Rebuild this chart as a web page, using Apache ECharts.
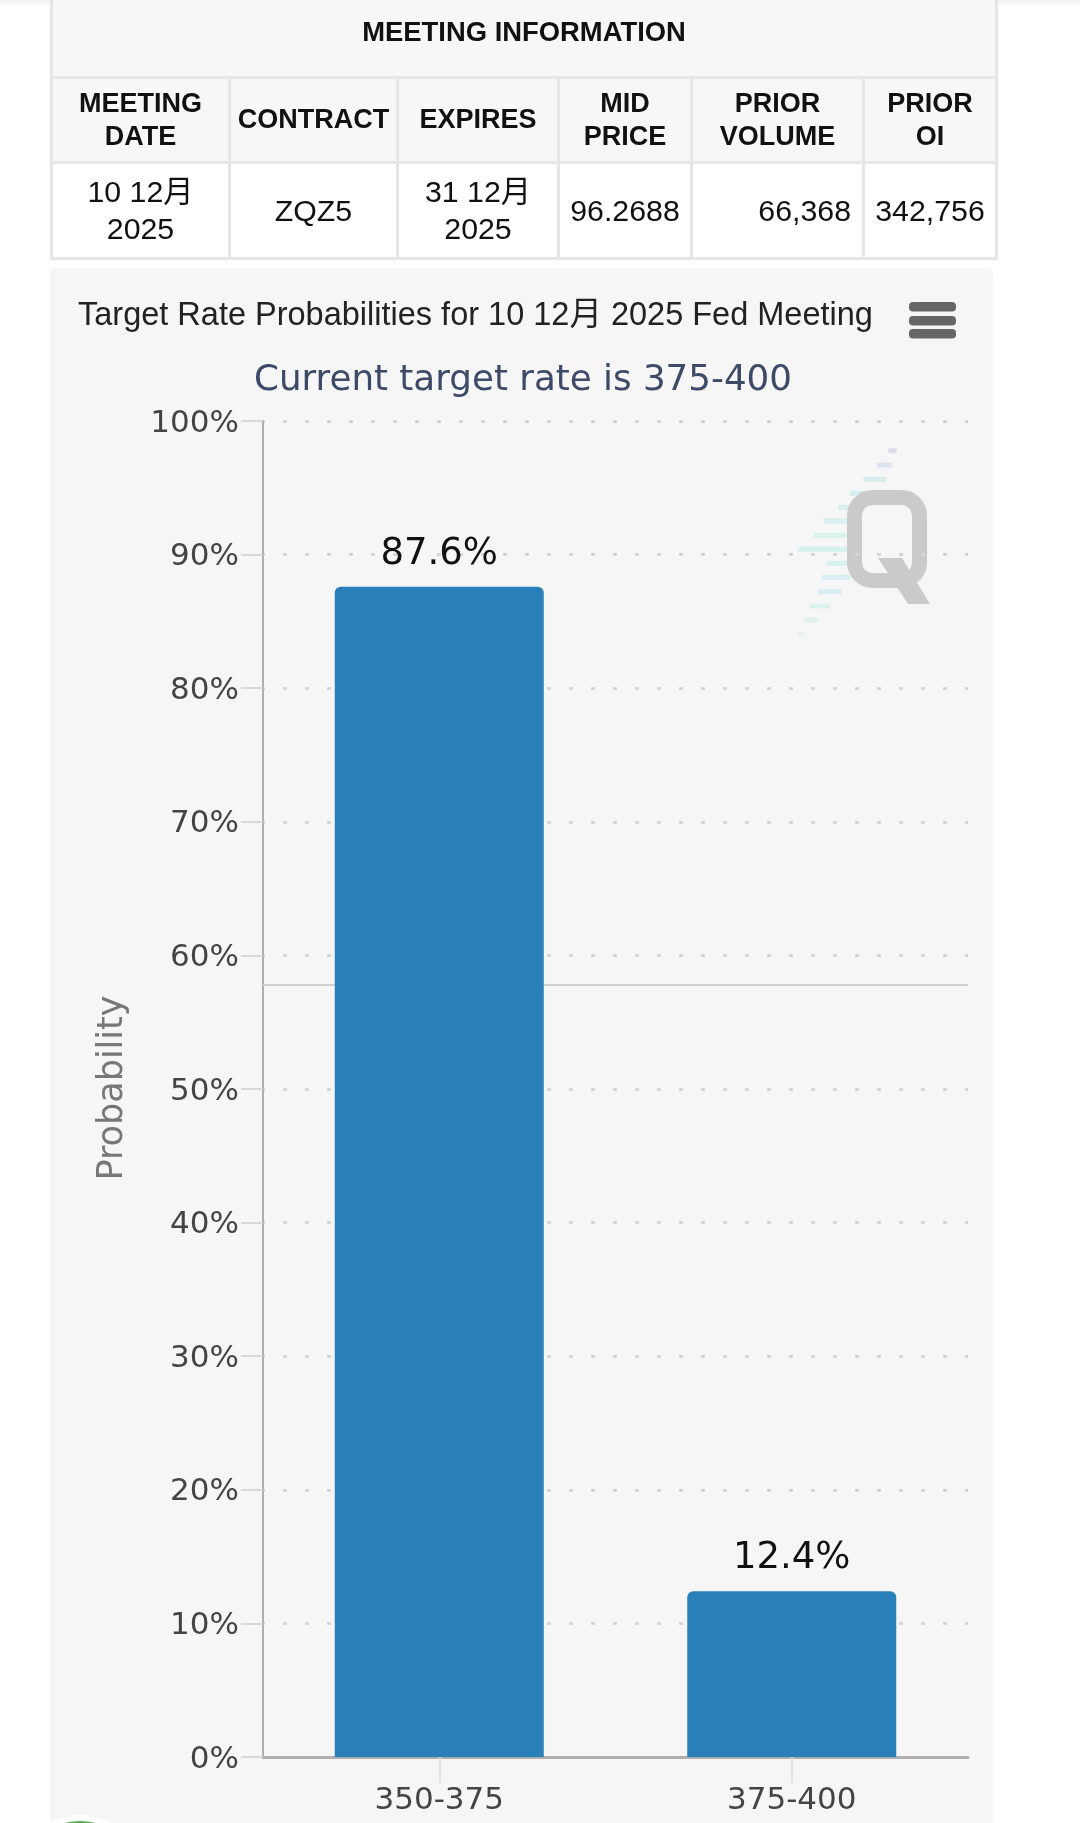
<!DOCTYPE html>
<html><head><meta charset="utf-8">
<script src="https://cdn.jsdelivr.net/npm/echarts@6/dist/echarts.min.js"></script>
<style>
html,body{margin:0;padding:0;background:#fff;width:1080px;height:1823px;overflow:hidden}
#topfade{position:absolute;left:0;top:0;width:1080px;height:6px;background:linear-gradient(#f0f0f0,#fff)}
#panel{position:absolute;left:50px;top:268px;width:943px;height:1555px;background:#f6f6f6;border-radius:6px 6px 0 0}
#chart{position:absolute;left:0;top:0;width:1080px;height:1823px}
#tbl{position:absolute;left:50px;top:0;width:945px;border-collapse:collapse;table-layout:fixed;
 font-family:"Liberation Sans","Noto Sans CJK SC",sans-serif;color:#111}
#tbl td,#tbl th{border:3px solid #e6e6e6;padding:0;text-align:center;vertical-align:middle;box-sizing:border-box}
#tbl th{background:#f7f7f7;font-size:27px;line-height:33px;font-weight:700}
#tbl td{background:#fff;font-size:30.3px;line-height:37px}
#tbl tr.t th{height:77px;border-top:0;font-size:27.4px;padding-bottom:13px}
#tbl tr.h th{height:85px}
#tbl tr.d td{height:96px}
</style></head><body>
<div id="topfade"></div>
<div id="panel"></div>
<div id="chart"></div>
<table id="tbl"></table>
<script>
var tableTitle = 'MEETING INFORMATION';
var tableHeaders = ['MEETING<br>DATE','CONTRACT','EXPIRES','MID<br>PRICE','PRIOR<br>VOLUME','PRIOR<br>OI'];
var tableRow = ['10 12月<br>2025','ZQZ5','31 12月<br>2025','96.2688','66,368','342,756'];
var columnWidths = [178,168,161,133,172,133];
var chartTitle = 'Target Rate Probabilities for 10 12月 2025 Fed Meeting';
var chartSubtitle = 'Current target rate is 375-400';
var categories = ['350-375','375-400'];
var probabilities = [87.6,12.4];
var referenceLineValue = 57.8;
var yMin = 0, yMax = 100, yStep = 10;

var h = '<colgroup>' + columnWidths.map(function(w){return '<col style="width:'+w+'px">';}).join('') + '</colgroup>';
h += '<tr class="t"><th colspan="6">'+tableTitle+'</th></tr>';
h += '<tr class="h">' + tableHeaders.map(function(t){return '<th>'+t+'</th>';}).join('') + '</tr>';
h += '<tr class="d">' + tableRow.map(function(t,i){return '<td'+(i===4?' style="text-align:right;padding-right:11px"':'')+'>'+t+'</td>';}).join('') + '</tr>';
document.getElementById('tbl').innerHTML = h;

var sans = '"DejaVu Sans",sans-serif';
var streaks = [[385,410,92,'#dcdcec'],[350,395,135,'#dde3ee'],[310,378,178,'#d8ecec'],[270,310,220,'#d6eeee'],[235,270,262,'#d6eeee'],[190,265,303,'#d8f0ee'],[160,260,346,'#d8f2ee'],[115,260,388,'#d4f2f0'],[200,265,430,'#d8f0f0'],[185,270,472,'#d8eef4'],[175,245,515,'#d8eef4'],[150,210,558,'#dcf2ee'],[130,175,600,'#e0f2ee'],[115,135,642,'#e8f0f0']];
var gfx = [];
streaks.forEach(function(s){
  gfx.push({type:'rect',z:0,silent:true,shape:{x:760+s[0]/3,y:420+s[2]/3-2.5,width:(s[1]-s[0])/3,height:5},style:{fill:s[3]}});
});
gfx.push({type:'rect',z:0,silent:true,shape:{x:854.5,y:497.5,width:65,height:83,r:18},style:{fill:'none',stroke:'#cacaca',lineWidth:15}});
gfx.push({type:'polygon',z:0,silent:true,shape:{points:[[878,558],[902,558],[930,604],[908,604]]},style:{fill:'#cacaca'}});
[302,316,329].forEach(function(y){
  gfx.push({type:'rect',silent:true,shape:{x:909,y:y,width:47,height:9.5,r:4},style:{fill:'#666'}});
});
gfx.push({type:'circle',silent:true,shape:{cx:80,cy:1878,r:60},style:{fill:'#5cb04a',stroke:'#fff',lineWidth:6}});
gfx.push({type:'text',silent:true,rotation:Math.PI/2,x:113,y:1088,style:{text:'Probability',font:'35px '+sans,fill:'#777',align:'center',verticalAlign:'middle'}});

var chart = echarts.init(document.getElementById('chart'),null,{renderer:'canvas'});
chart.setOption({
  animation:false,
  backgroundColor:'transparent',
  title:[
    {text:chartTitle,left:73,top:295,textStyle:{fontFamily:'"Liberation Sans","Noto Sans CJK SC",sans-serif',fontSize:32.5,fontWeight:'normal',color:'#222'}},
    {text:chartSubtitle,left:518,textAlign:'center',top:358,textStyle:{fontFamily:sans,fontSize:35.7,fontWeight:'normal',color:'#3d4a68'}}
  ],
  grid:{left:263,top:421,width:705,height:1336,containLabel:false},
  xAxis:{type:'category',data:categories,
    axisLine:{lineStyle:{color:'#aeaeae',width:3}},
    axisTick:{show:true,alignWithLabel:true,length:26,lineStyle:{color:'#dcdcdc',width:1.5}},
    axisLabel:{margin:28,fontFamily:sans,fontSize:31,color:'#444',interval:0},
    splitLine:{show:false}
  },
  yAxis:{type:'value',min:yMin,max:yMax,interval:yStep,
    axisLine:{show:true,lineStyle:{color:'#aeaeae',width:2}},
    axisTick:{show:true,length:22,lineStyle:{color:'#d8d8d8',width:2}},
    axisLabel:{margin:24,formatter:'{v|{value}%}',
      rich:{v:{fontFamily:sans,fontSize:31,color:'#444',padding:[5,0,0,0]}}},
    splitLine:{show:true,lineStyle:{color:'#d6d6d6',width:3,type:[4,18],dashOffset:2}}
  },
  series:[
    {type:'line',data:[],silent:true,z:1,
      markLine:{silent:true,symbol:'none',z:1,label:{show:false},lineStyle:{color:'#cfcfcf',width:2,type:'solid'},data:[{yAxis:referenceLineValue}]}},
    {type:'bar',data:probabilities,barWidth:209,z:3,
      itemStyle:{color:'#2980b9',borderRadius:[6,6,0,0]},
      label:{show:true,position:'top',distance:14,fontFamily:sans,fontSize:37,color:'#111',formatter:function(p){return p.value.toFixed(1)+'%';}}}
  ],
  graphic:gfx
});
</script>
</body></html>
